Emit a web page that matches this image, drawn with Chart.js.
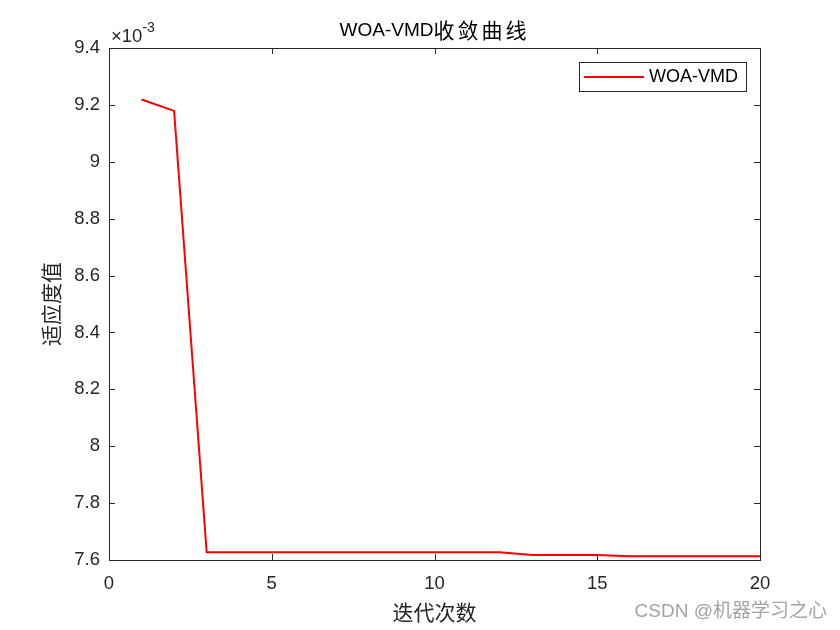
<!DOCTYPE html>
<html>
<head>
<meta charset="utf-8">
<script src="https://cdn.jsdelivr.net/npm/chart.js@4"></script>
<style>
  html, body { margin: 0; padding: 0; background: #fff; }
  #wrap { width: 840px; height: 630px; }
</style>
</head>
<body>
<div id="wrap"><canvas id="mychart" width="840" height="630"></canvas></div>
<script>
// iterations and best fitness (in units of 1e-3)
var iterations = [1, 2, 3, 4, 5, 6, 7, 8, 9, 10, 11, 12, 13, 14, 15, 16, 17, 18, 19, 20]
var fitness = [9.219, 9.179, 7.627, 7.627, 7.627, 7.627, 7.627, 7.627, 7.627, 7.627,
               7.627, 7.627, 7.618, 7.618, 7.618, 7.613, 7.613, 7.613, 7.613, 7.613]
var xTicks = [0, 5, 10, 15, 20]
var yTicks = [7.6, 7.8, 8, 8.2, 8.4, 8.6, 8.8, 9, 9.2, 9.4]
var exponent = -3
var seriesName = "WOA-VMD"
var titleLatin = "WOA-VMD"
var titleCjk = "收敛曲线"
var xLabel = "迭代次数"
var yLabel = "适应度值"
var watermark = "CSDN @机器学习之心"

var latin = "'Liberation Sans', Arial, sans-serif"
var mixed = "'Liberation Sans', 'Noto Sans CJK SC', sans-serif"
var cjkFont = "'Noto Sans CJK SC', sans-serif"
var axisColor = "#262626"

var matlabAxes = {
    id: "matlabAxes",
    afterDraw: function(chart){
        var ctx = chart.ctx
        var a = chart.chartArea
        var xs = chart.scales.x, ys = chart.scales.y
        ctx.save()
        // box
        ctx.strokeStyle = axisColor
        ctx.lineWidth = 1
        ctx.strokeRect(Math.round(a.left) + 0.5, Math.round(a.top) + 0.5,
                       Math.round(a.right - a.left), Math.round(a.bottom - a.top))
        // inward ticks, both sides
        var tl = 6
        ctx.beginPath()
        xTicks.forEach(function(v){
            var px = Math.round(xs.getPixelForValue(v)) + 0.5
            ctx.moveTo(px, a.bottom); ctx.lineTo(px, a.bottom - tl)
            ctx.moveTo(px, a.top); ctx.lineTo(px, a.top + tl)
        })
        yTicks.forEach(function(v){
            var py = Math.round(ys.getPixelForValue(v)) + 0.5
            ctx.moveTo(a.left, py); ctx.lineTo(a.left + tl, py)
            ctx.moveTo(a.right, py); ctx.lineTo(a.right - tl, py)
        })
        ctx.stroke()

        // exponent marker
        ctx.fillStyle = axisColor
        ctx.textBaseline = "alphabetic"
        ctx.textAlign = "left"
        ctx.font = "18.5px " + latin
        ctx.fillText("\u00d710", a.left + 2, a.top - 6)
        var w = ctx.measureText("\u00d710").width
        ctx.font = "14px " + latin
        ctx.fillText(String(exponent), a.left + 2 + w, a.top - 16)

        // title, latin part then cjk part
        ctx.fillStyle = "#000"
        ctx.textBaseline = "middle"
        ctx.font = "19px " + latin
        var w1 = ctx.measureText(titleLatin).width
        ctx.font = "21px " + cjkFont
        ctx.letterSpacing = "3px"
        var w2 = ctx.measureText(titleCjk).width
        var tx = (a.left + a.right) / 2 - (w1 + w2) / 2
        ctx.letterSpacing = "0px"
        ctx.font = "19px " + latin
        ctx.fillText(titleLatin, tx, 31)
        ctx.font = "21px " + cjkFont
        ctx.letterSpacing = "3px"
        ctx.fillText(titleCjk, tx + w1, 30)
        ctx.letterSpacing = "0px"

        // axis labels
        ctx.textAlign = "center"
        ctx.fillStyle = "#262626"
        ctx.font = "21px " + cjkFont
        ctx.fillText(xLabel, (a.left + a.right) / 2, 612)
        ctx.save()
        ctx.translate(51, (a.top + a.bottom) / 2)
        ctx.rotate(-Math.PI / 2)
        ctx.fillText(yLabel, 0, 0)
        ctx.restore()

        // legend
        var lx = 579, ly = 62, lw = 167, lh = 29
        ctx.fillStyle = "#fff"
        ctx.fillRect(lx, ly, lw, lh)
        ctx.strokeStyle = axisColor
        ctx.lineWidth = 1
        ctx.strokeRect(lx + 0.5, ly + 0.5, lw, lh)
        ctx.strokeStyle = "#ff0000"
        ctx.lineWidth = 2
        ctx.beginPath()
        ctx.moveTo(lx + 5, ly + lh / 2 + 0.5)
        ctx.lineTo(lx + 65, ly + lh / 2 + 0.5)
        ctx.stroke()
        ctx.fillStyle = "#000"
        ctx.textAlign = "left"
        ctx.font = "18px " + latin
        ctx.fillText(seriesName, lx + 70, ly + lh / 2 + 1)

        // watermark
        ctx.fillStyle = "#a3a3a3"
        ctx.textAlign = "right"
        ctx.font = "19px " + mixed
        ctx.fillText(watermark, 827, 612)
        ctx.restore()
    }
}

var myChart = document.getElementById("mychart").getContext("2d")

var chart = new Chart(myChart, {
    type: "line",
    data: {
        datasets: [
            {
                label: seriesName,
                data: iterations.map(function(it, i){ return {x: it, y: fitness[i]} }),
                borderColor: "#ff0000",
                backgroundColor: "#ff0000",
                borderWidth: 2,
                pointRadius: 0,
                tension: 0,
                fill: false
            }
        ]
    },
    options: {
        responsive: false,
        animation: false,
        devicePixelRatio: 1,
        layout: { padding: { left: 0, right: 80, top: 48, bottom: 0 } },
        plugins: {
            legend: { display: false },
            title: { display: false },
            tooltip: { enabled: false }
        },
        scales: {
            x: {
                type: "linear",
                min: 0, max: 20,
                afterFit: function(s){ s.height = 70 },
                afterBuildTicks: function(s){ s.ticks = xTicks.map(function(v){ return {value: v} }) },
                grid: { display: false, drawTicks: false },
                border: { display: false },
                ticks: {
                    padding: 13,
                    color: axisColor,
                    font: { family: latin, size: 18.5 },
                    maxRotation: 0
                }
            },
            y: {
                min: 7.6, max: 9.4,
                afterFit: function(s){ s.width = 109 },
                afterBuildTicks: function(s){ s.ticks = yTicks.map(function(v){ return {value: v} }) },
                grid: { display: false, drawTicks: false },
                border: { display: false },
                ticks: {
                    padding: 9,
                    color: axisColor,
                    font: { family: latin, size: 18.5 },
                    callback: function(v){ return String(Number(v.toFixed(1))) }
                }
            }
        }
    },
    plugins: [matlabAxes]
})
</script>
</body>
</html>
